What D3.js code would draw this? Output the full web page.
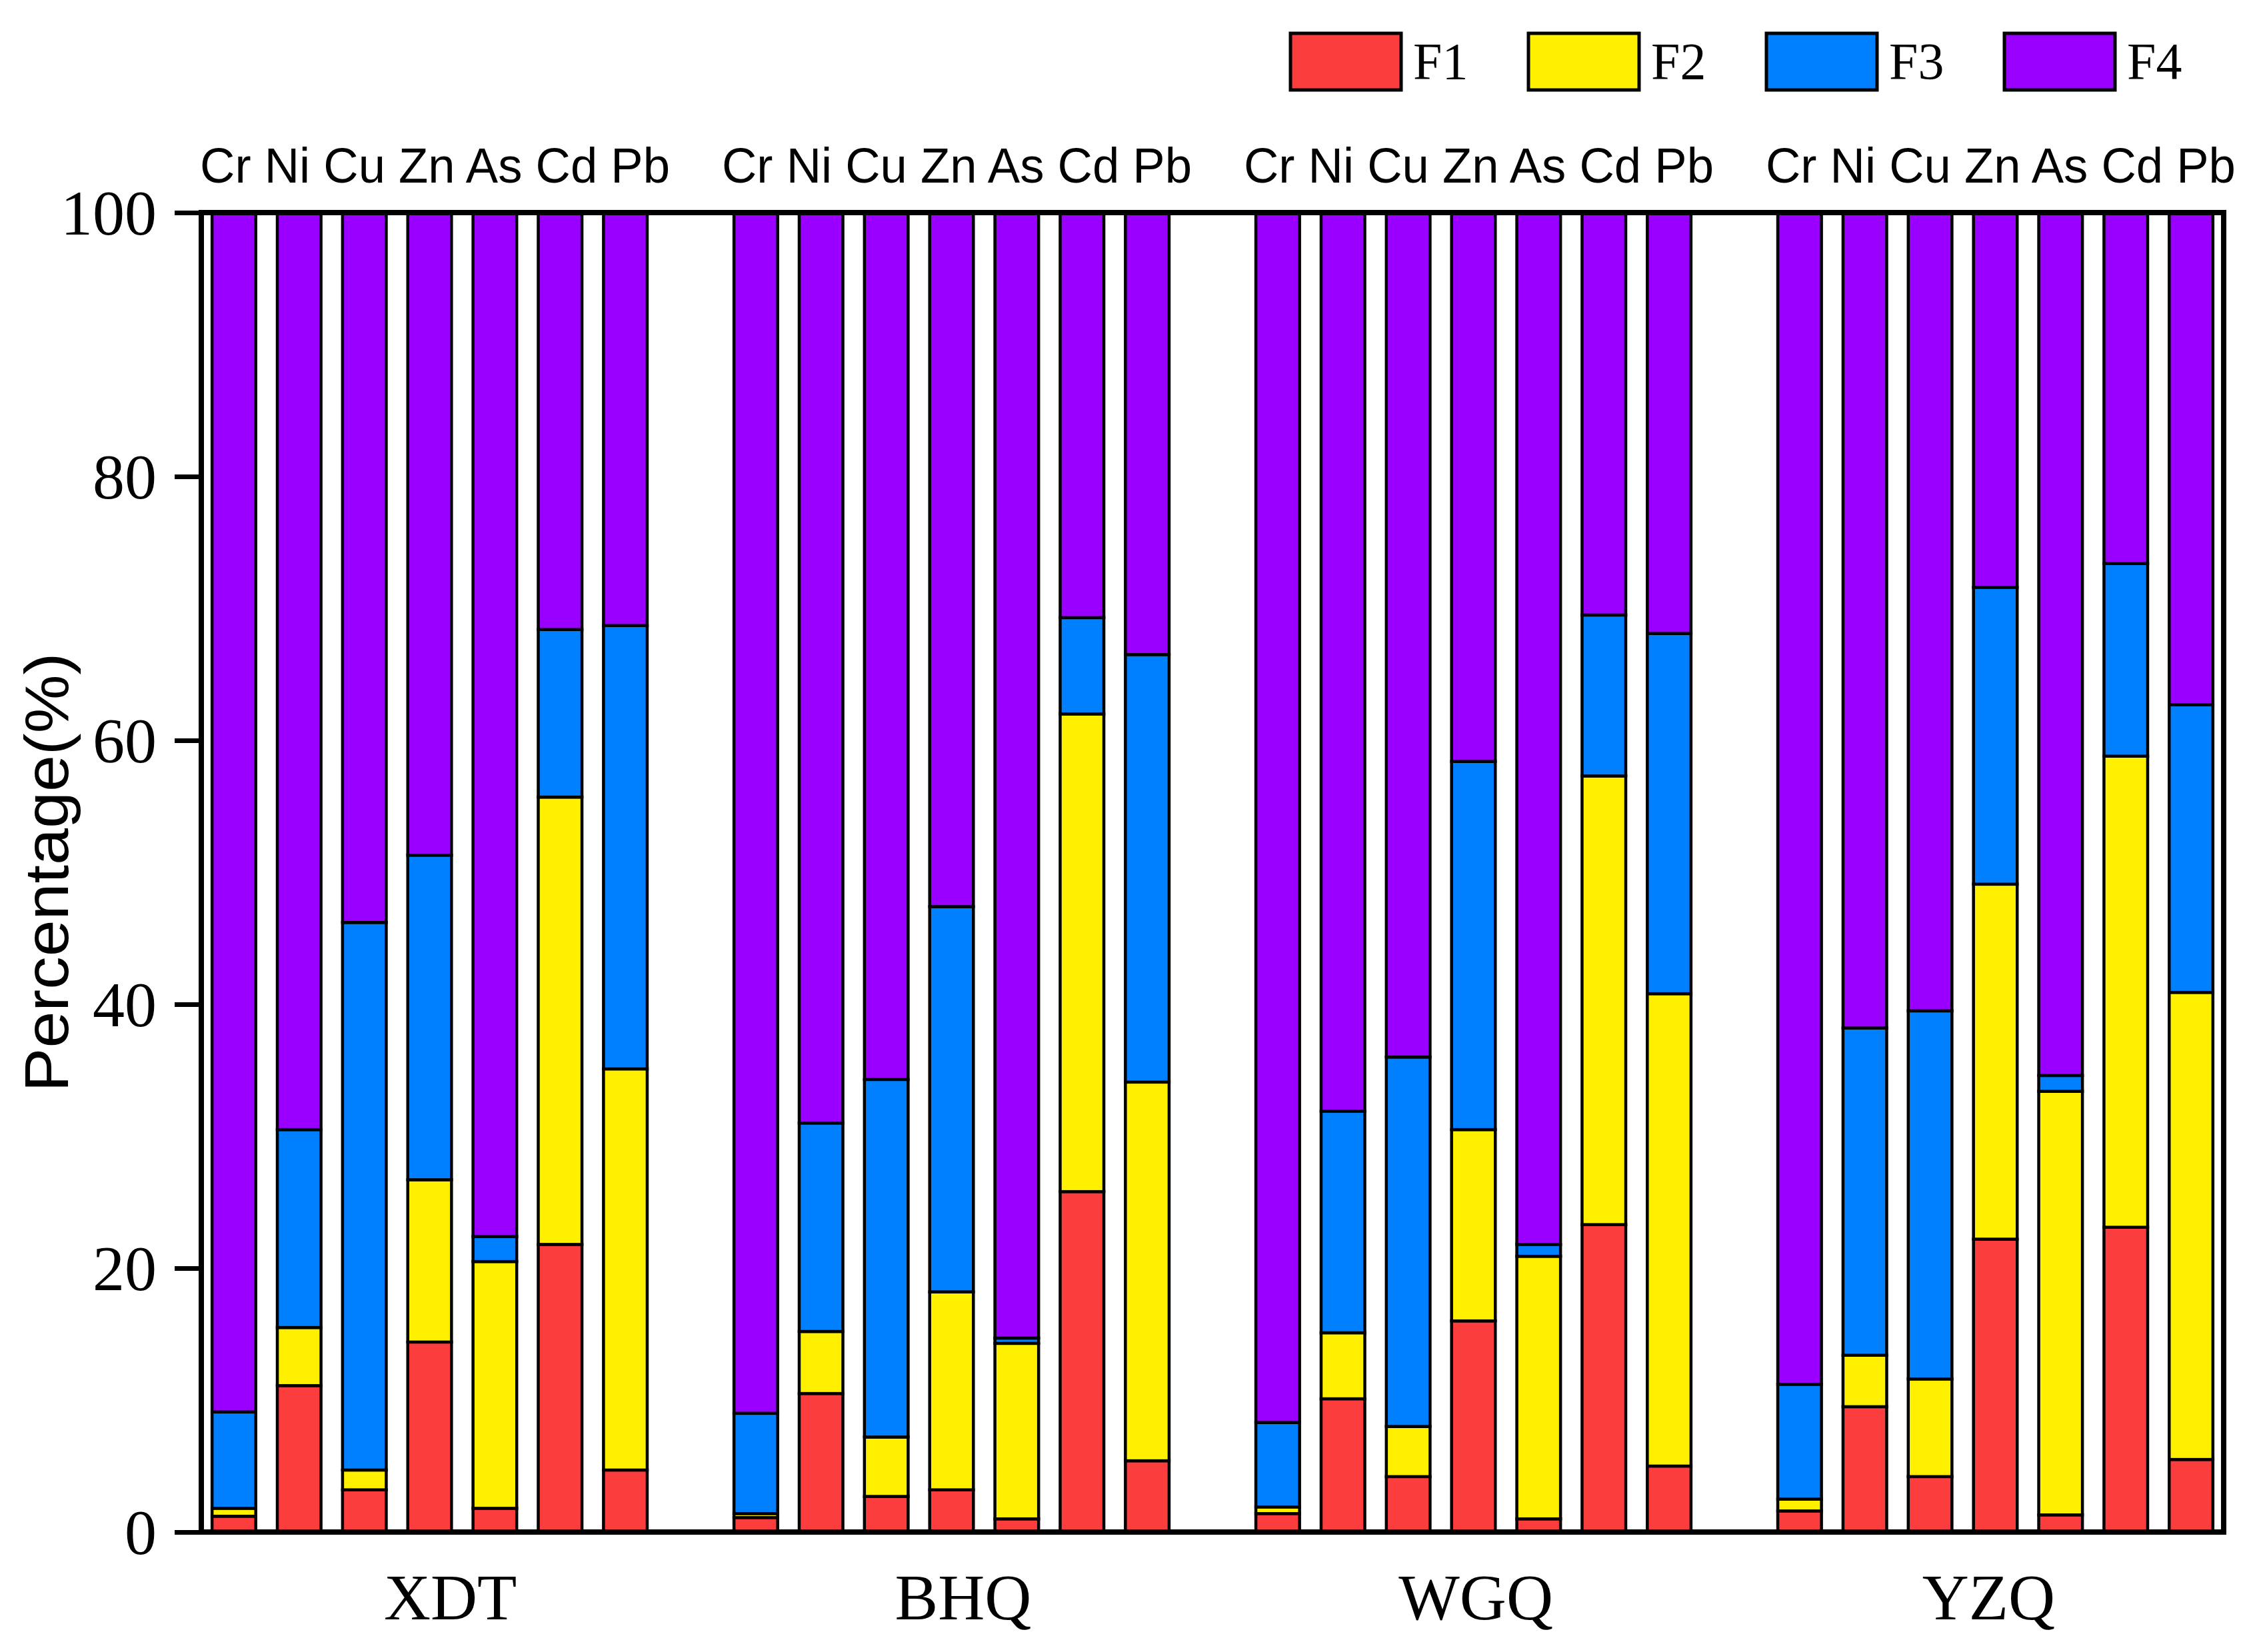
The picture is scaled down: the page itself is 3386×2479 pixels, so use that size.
<!DOCTYPE html>
<html>
<head>
<meta charset="utf-8">
<script src="https://cdn.jsdelivr.net/npm/d3@7"></script>
<style>
  html, body { margin: 0; padding: 0; background: #fff; }
  svg { display: block; }
</style>
</head>
<body>
<svg id="chart" width="3386" height="2479"></svg>
<script>
// ---------------- data ----------------
const groups = ["XDT", "BHQ", "WGQ", "YZQ"];
const metals = ["Cr", "Ni", "Cu", "Zn", "As", "Cd", "Pb"];
const fractions = ["F1", "F2", "F3", "F4"];
const yTicks = [0, 20, 40, 60, 80, 100];

// values in group order (XDT, BHQ, WGQ, YZQ), each group Cr..Pb
const F1 = [1.2, 11.1, 3.2, 14.4, 1.8, 21.8, 4.7,
            1.1, 10.5, 2.7, 3.2, 1.0, 25.8, 5.4,
            1.4, 10.1, 4.2, 16.0, 1.0, 23.3, 5.0,
            1.6, 9.5, 4.2, 22.2, 1.3, 23.1, 5.5];
const F2 = [0.6, 4.4, 1.5, 12.3, 18.7, 33.9, 30.4,
            0.3, 4.7, 4.5, 15.0, 13.3, 36.2, 28.7,
            0.5, 5.0, 3.8, 14.5, 19.9, 34.0, 35.8,
            0.9, 3.9, 7.4, 26.9, 32.1, 35.7, 35.4];
const F3 = [7.3, 15.0, 41.5, 24.6, 1.9, 12.7, 33.6,
            7.6, 15.8, 27.1, 29.2, 0.4, 7.3, 32.4,
            6.4, 16.8, 28.0, 27.9, 0.9, 12.2, 27.3,
            8.7, 24.8, 27.9, 22.5, 1.2, 14.6, 21.8];
const F4 = [90.9, 69.5, 53.8, 48.7, 77.6, 31.6, 31.3,
            91.0, 69.0, 65.7, 52.6, 85.3, 30.7, 33.5,
            91.7, 68.1, 64.0, 41.6, 78.2, 30.5, 31.9,
            88.8, 61.8, 60.5, 28.4, 65.4, 26.6, 37.3];

const colors = ["#FB3D3D", "#FFF000", "#007FFF", "#9900FF"];

// ---------------- layout ----------------
const W = 3386, H = 2479;
const plotL = 302, plotR = 3336, plotT = 319, plotB = 2299;
const serif = "'Liberation Serif', 'Times New Roman', serif";
const sans = "'Liberation Sans', Arial, sans-serif";

const svg = d3.select("#chart");
svg.append("rect").attr("width", W).attr("height", H).attr("fill", "#fff");

// rows
const rows = [];
groups.forEach((g, gi) => {
  metals.forEach((m, mi) => {
    const i = gi * metals.length + mi;
    rows.push({ key: g + "-" + m, group: g, metal: m, F1: F1[i], F2: F2[i], F3: F3[i], F4: F4[i] });
  });
});

// slot domain with an empty slot between groups
const slots = [];
groups.forEach((g, gi) => {
  metals.forEach(m => slots.push(g + "-" + m));
  if (gi < groups.length - 1) slots.push("gap" + gi);
});

const x = d3.scaleBand().domain(slots).range([plotL, plotR]).padding(0);
const barFrac = 0.67;
const bw = x.bandwidth() * barFrac;
const y = d3.scaleLinear().domain([0, 100]).range([plotB, plotT]);

const stack = d3.stack().keys(fractions);
const series = stack(rows);

const gBars = svg.append("g");
series.forEach((s, si) => {
  gBars.append("g")
    .attr("fill", colors[si])
    .selectAll("rect")
    .data(s)
    .join("rect")
    .attr("x", d => x(d.data.key) + (x.bandwidth() - bw) / 2)
    .attr("width", bw)
    .attr("y", d => y(d[1]))
    .attr("height", d => y(d[0]) - y(d[1]))
    .attr("stroke", "#000")
    .attr("stroke-width", 4.5);
});

// frame
svg.append("rect")
  .attr("x", plotL).attr("y", plotT)
  .attr("width", plotR - plotL).attr("height", plotB - plotT)
  .attr("fill", "none").attr("stroke", "#000").attr("stroke-width", 8);

// y axis
const yAxis = d3.axisLeft(y).tickValues(yTicks).tickSize(40).tickPadding(27).tickFormat(d3.format("d"));
const gy = svg.append("g").attr("transform", `translate(${plotL},0)`).call(yAxis);
gy.select(".domain").remove();
gy.selectAll(".tick line").attr("stroke", "#000").attr("stroke-width", 7);
gy.selectAll(".tick text")
  .attr("font-family", serif).attr("font-size", 96).attr("fill", "#000")
  .attr("dy", "0.34em");

// y title
svg.append("text")
  .attr("transform", `translate(102,${(plotT + plotB) / 2}) rotate(-90)`)
  .attr("text-anchor", "middle")
  .attr("font-family", sans).attr("font-size", 92)
  .attr("textLength", 659).attr("lengthAdjust", "spacingAndGlyphs")
  .text("Percentage(%)");

// top metal labels per group
groups.forEach(g => {
  const first = x(g + "-" + metals[0]);
  const last = x(g + "-" + metals[metals.length - 1]) + x.bandwidth();
  const cx = (first + last) / 2 + 8;
  svg.append("text")
    .attr("x", cx).attr("y", 274)
    .attr("text-anchor", "middle")
    .attr("font-family", sans).attr("font-size", 74)
    .attr("textLength", 705).attr("lengthAdjust", "spacingAndGlyphs")
    .text(metals.join(" "));
});

// bottom group labels
const xg = d3.scaleBand().domain(groups).range([plotL - 11, plotR + 32]);
svg.append("g").selectAll("text")
  .data(groups)
  .join("text")
  .attr("x", d => xg(d) + xg.bandwidth() / 2)
  .attr("y", 2430)
  .attr("text-anchor", "middle")
  .attr("font-family", serif).attr("font-size", 97)
  .text(d => d);

// legend
const legX0 = 1936, legStep = 357, legY = 50, boxW = 166, boxH = 85;
const leg = svg.append("g").selectAll("g")
  .data(fractions)
  .join("g")
  .attr("transform", (d, i) => `translate(${legX0 + i * legStep},${legY})`);
leg.append("rect")
  .attr("width", boxW).attr("height", boxH)
  .attr("fill", (d, i) => colors[i])
  .attr("stroke", "#000").attr("stroke-width", 5);
leg.append("text")
  .attr("x", boxW + 18).attr("y", 68)
  .attr("font-family", serif).attr("font-size", 78)
  .text(d => d);
</script>
</body>
</html>
